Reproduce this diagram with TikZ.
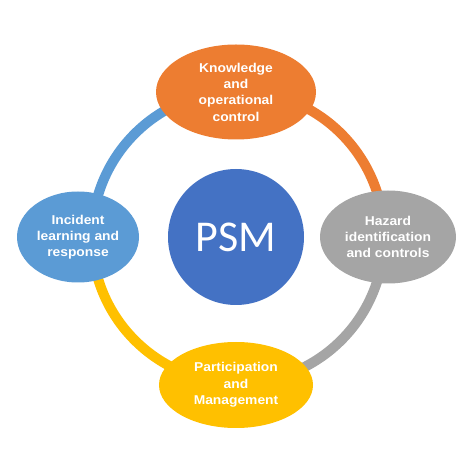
\documentclass[tikz,border=0pt]{standalone}
\usepackage{fontspec}
\setmainfont{Liberation Sans}
\newfontfamily\topicfont[FakeStretch=1.08]{Liberation Sans}
\newfontfamily\psmfont{Carlito}
\usetikzlibrary{shapes.geometric}

\definecolor{psmblue}{HTML}{4472C4}
\definecolor{orangeA}{HTML}{ED7D31}
\definecolor{grayA}{HTML}{A5A5A5}
\definecolor{yellowA}{HTML}{FFC000}
\definecolor{blueA}{HTML}{5B9BD5}

\tikzset{
  topic/.style={ellipse, align=center, text=white, inner sep=0pt,
    font=\topicfont\bfseries\fontsize{12.8}{16.3}\selectfont},
  ringarc/.style={line width=10pt},
}

\begin{document}
\begin{tikzpicture}[x=1pt, y=1pt]
    \useasboundingbox (0,0) rectangle (474,474);
    \coordinate (ring) at (238,237);

    % the ring, one quarter per topic
    \draw[ringarc, blueA] ([shift={(180:146)}]ring) arc[start angle=180, end angle=90, radius=146];
    \draw[ringarc, orangeA] ([shift={(90:146)}]ring) arc[start angle=90, end angle=0, radius=146];
    \draw[ringarc, grayA] ([shift={(0:146)}]ring) arc[start angle=0, end angle=-90, radius=146];
    \draw[ringarc, yellowA] ([shift={(-90:146)}]ring) arc[start angle=-90, end angle=-180, radius=146];

    \node (psm) [circle, fill=psmblue, minimum size=136pt, text=white, font=\psmfont\fontsize{44}{44}\selectfont] at (236,237) {PSM};
    \node (knowledge) [topic, fill=orangeA, above of=psm, node distance=145pt, minimum width=160pt, minimum height=95pt] {Knowledge\\and\\operational\\control};
    \node (hazard) [topic, fill=grayA, right of=psm, node distance=152pt, minimum width=136pt, minimum height=93pt] {Hazard\\identification\\and controls};
    \node (participation) [topic, fill=yellowA, below of=psm, node distance=148pt, minimum width=154pt, minimum height=86pt] {Participation\\and\\Management};
    \node (incident) [topic, fill=blueA, left of=psm, node distance=158pt, minimum width=122pt, minimum height=91pt] {Incident\\learning and\\response};
\end{tikzpicture}
\end{document}
